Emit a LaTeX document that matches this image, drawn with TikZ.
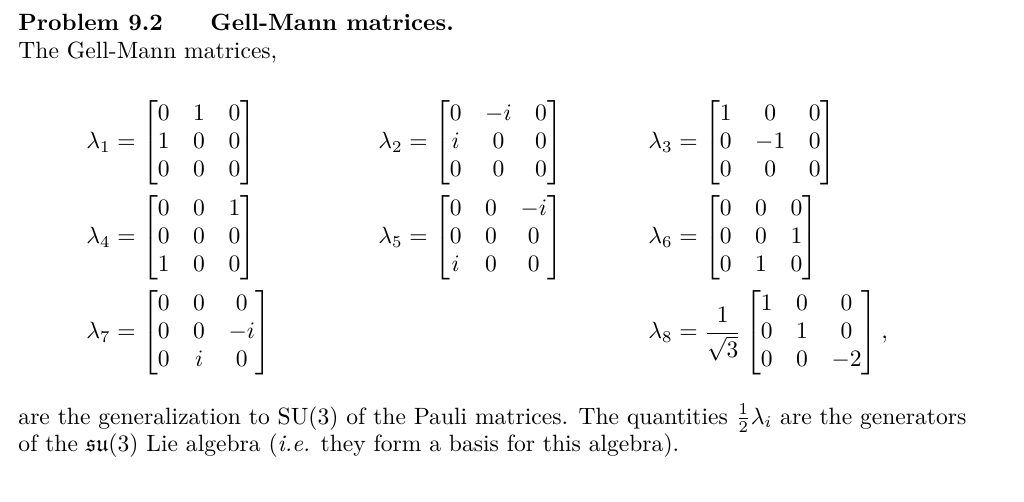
\documentclass[tikz,border=0pt]{standalone}
\usepackage{amsmath,amssymb}
\begin{document}
\begin{tikzpicture}[x=0.4245pt,y=-0.4245pt,txt/.style={anchor=base west,inner sep=0pt},mat/.style={anchor=west,inner sep=0pt}]
\useasboundingbox (0,0) rectangle (1024,501);
\node[txt] (t1) at (18,30) {\textbf{Problem 9.2}};
\node[txt] (t2) at (210,30) {\textbf{Gell-Mann matrices.}};
\node[txt] (t3) at (18,58) {The Gell-Mann matrices,};
\node[mat] (l1) at (86,143) {$\lambda_1=\begin{bmatrix}0&1&0\\1&0&0\\0&0&0\end{bmatrix}$};
\node[mat] (l2) at (378,143) {$\lambda_2=\begin{bmatrix}0&-i&0\\i&0&0\\0&0&0\end{bmatrix}$};
\node[mat] (l3) at (648,143) {$\lambda_3=\begin{bmatrix}1&0&0\\0&-1&0\\0&0&0\end{bmatrix}$};
\node[mat] (l4) at (86,238) {$\lambda_4=\begin{bmatrix}0&0&1\\0&0&0\\1&0&0\end{bmatrix}$};
\node[mat] (l5) at (378,238) {$\lambda_5=\begin{bmatrix}0&0&-i\\0&0&0\\i&0&0\end{bmatrix}$};
\node[mat] (l6) at (648,238) {$\lambda_6=\begin{bmatrix}0&0&0\\0&0&1\\0&1&0\end{bmatrix}$};
\node[mat] (l7) at (86,333) {$\lambda_7=\begin{bmatrix}0&0&0\\0&0&-i\\0&i&0\end{bmatrix}$};
\node[mat] (l8) at (648,333) {$\lambda_8=\dfrac{1}{\sqrt{3}}\begin{bmatrix}1&0&0\\0&1&0\\0&0&-2\end{bmatrix},$};
\node[txt] (p1) at (18,424) {are the generalization to SU(3) of the Pauli matrices. The quantities $\frac12\lambda_i$ are the generators};
\node[txt] (p2) at (18,451) {of the $\mathfrak{su}(3)$ Lie algebra (\textit{i.e.} they form a basis for this algebra).};
\end{tikzpicture}
\end{document}
